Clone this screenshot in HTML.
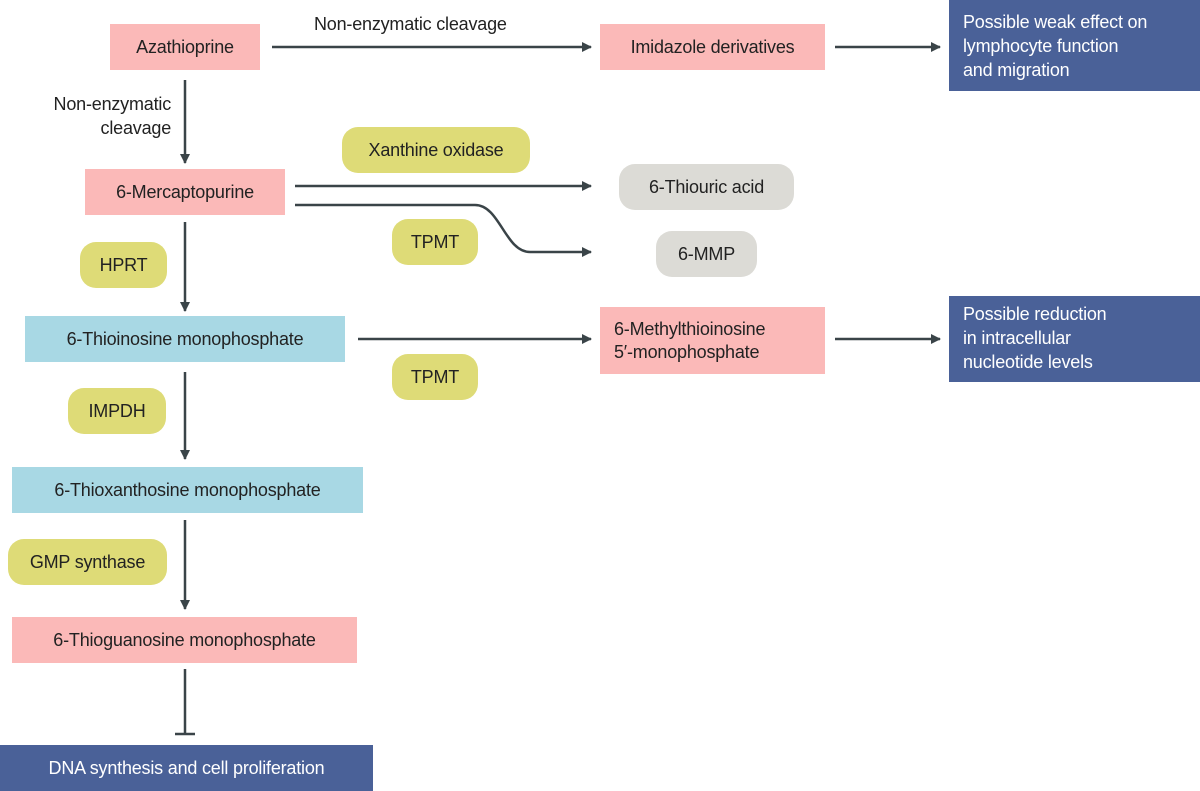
<!DOCTYPE html>
<html><head><meta charset="utf-8"><style>
body{margin:0;width:1200px;height:791px;background:#fff;position:relative;overflow:hidden;font-family:"Liberation Sans",sans-serif;color:#222;}
.b{position:absolute;display:flex;align-items:center;justify-content:center;font-size:18px;letter-spacing:-0.2px;box-sizing:border-box;white-space:nowrap;}
.p{background:#fbb9b8;}
.c{background:#a8d8e4;}
.y{background:#dedb77;border-radius:16px;}
.g{background:#dcdbd6;border-radius:16px;}
.d{background:#4a6198;color:#fff;justify-content:flex-start;align-items:flex-start;padding:10px 0 0 14px;line-height:24px;white-space:normal;}
.t{position:absolute;font-size:18px;letter-spacing:-0.2px;line-height:24px;}
svg{position:absolute;left:0;top:0;}
</style></head><body>
<svg width="1200" height="791">
<defs><marker id="a" markerWidth="10" markerHeight="10" refX="9" refY="5" orient="auto" markerUnits="userSpaceOnUse"><path d="M0,0 L10,5 L0,10 Z" fill="#3a4448"/></marker></defs>
<g stroke="#3a4448" stroke-width="2.5" fill="none">
<line x1="272" y1="47" x2="591" y2="47" marker-end="url(#a)"/>
<line x1="835" y1="47" x2="940" y2="47" marker-end="url(#a)"/>
<line x1="185" y1="80" x2="185" y2="163" marker-end="url(#a)"/>
<line x1="295" y1="186" x2="591" y2="186" marker-end="url(#a)"/>
<path d="M295,205 L475,205 C500,205 505,252 530,252 L591,252" marker-end="url(#a)"/>
<line x1="185" y1="222" x2="185" y2="311" marker-end="url(#a)"/>
<line x1="358" y1="339" x2="591" y2="339" marker-end="url(#a)"/>
<line x1="835" y1="339" x2="940" y2="339" marker-end="url(#a)"/>
<line x1="185" y1="372" x2="185" y2="459" marker-end="url(#a)"/>
<line x1="185" y1="520" x2="185" y2="609" marker-end="url(#a)"/>
<line x1="185" y1="669" x2="185" y2="734"/>
<line x1="175" y1="734" x2="195" y2="734"/>
</g></svg>
<div class="b p" style="left:110px;top:24px;width:150px;height:46px">Azathioprine</div>
<div class="t" style="left:314px;top:12px">Non-enzymatic cleavage</div>
<div class="b p" style="left:600px;top:24px;width:225px;height:46px">Imidazole derivatives</div>
<div class="b d" style="left:949px;top:0;width:251px;height:91px">Possible weak effect on<br>lymphocyte function<br>and migration</div>
<div class="t" style="left:20px;top:92px;width:151px;text-align:right">Non-enzymatic<br>cleavage</div>
<div class="b y" style="left:342px;top:127px;width:188px;height:46px">Xanthine oxidase</div>
<div class="b p" style="left:85px;top:169px;width:200px;height:46px">6-Mercaptopurine</div>
<div class="b g" style="left:619px;top:164px;width:175px;height:46px">6-Thiouric acid</div>
<div class="b y" style="left:392px;top:219px;width:86px;height:46px">TPMT</div>
<div class="b g" style="left:656px;top:231px;width:101px;height:46px">6-MMP</div>
<div class="b y" style="left:80px;top:242px;width:87px;height:46px">HPRT</div>
<div class="b c" style="left:25px;top:316px;width:320px;height:46px">6-Thioinosine monophosphate</div>
<div class="b p" style="left:600px;top:307px;width:225px;height:67px;justify-content:flex-start;padding-left:14px;line-height:23px;white-space:normal">6-Methylthioinosine<br>5′-monophosphate</div>
<div class="b d" style="left:949px;top:296px;width:251px;height:86px;padding-top:6px">Possible reduction<br>in intracellular<br>nucleotide levels</div>
<div class="b y" style="left:392px;top:354px;width:86px;height:46px">TPMT</div>
<div class="b y" style="left:68px;top:388px;width:98px;height:46px">IMPDH</div>
<div class="b c" style="left:12px;top:467px;width:351px;height:46px">6-Thioxanthosine monophosphate</div>
<div class="b y" style="left:8px;top:539px;width:159px;height:46px">GMP synthase</div>
<div class="b p" style="left:12px;top:617px;width:345px;height:46px">6-Thioguanosine monophosphate</div>
<div class="b" style="left:0;top:745px;width:373px;height:46px;background:#4a6198;color:#fff">DNA synthesis and cell proliferation</div>
</body></html>
